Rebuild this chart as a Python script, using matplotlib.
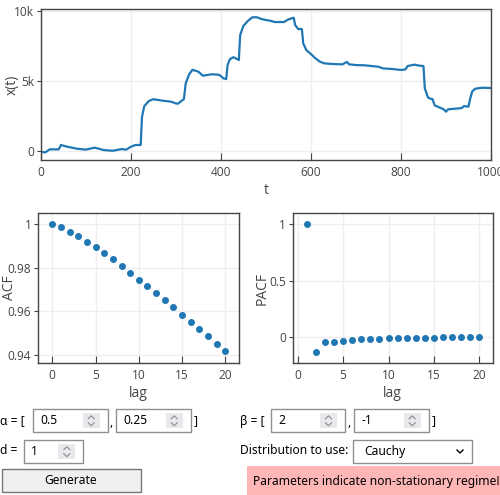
import matplotlib
matplotlib.use("Agg")
import matplotlib.pyplot as plt
from matplotlib.patches import Rectangle

# time series (t, x(t))
t_vals = [0, 10, 20, 40, 45, 60, 80, 100, 120, 140, 160, 180, 190, 200, 210, 222,
          225, 230, 240, 250, 270, 290, 300, 305, 315, 318, 322, 330, 337, 350,
          360, 380, 395, 400, 405, 412, 415, 420, 428, 433, 440, 443, 450, 460,
          470, 480, 490, 500, 510, 520, 540, 550, 562, 565, 572, 580, 583, 590,
          600, 610, 620, 630, 650, 670, 680, 685, 700, 720, 750, 760, 780, 800,
          810, 815, 830, 840, 850, 853, 860, 865, 870, 875, 885, 895, 900, 905,
          920, 935, 940, 950, 953, 958, 965, 980, 1000]
x_vals = [-50, -100, 120, 120, 430, 300, 170, 100, 240, 70, 20, 140, 100, 300, 430, 430,
          2450, 3200, 3570, 3700, 3600, 3520, 3400, 3380, 3640, 3700, 4830, 5500, 5800, 5670,
          5380, 5480, 5450, 5360, 5200, 5140, 6140, 6550, 6700, 6620, 6500, 8280, 8930, 9290,
          9550, 9550, 9430, 9360, 9300, 9210, 9210, 9400, 9520, 9000, 8710, 8710, 7690, 7200,
          6930, 6620, 6380, 6260, 6210, 6190, 6360, 6190, 6140, 6120, 6020, 5900, 5860, 5790,
          5830, 6070, 6170, 6100, 6070, 4480, 3830, 3740, 3710, 3260, 3120, 2980, 2810, 2980,
          3020, 3070, 3210, 3170, 3640, 4240, 4450, 4520, 4500]

lags_acf = list(range(0, 21))
acf_vals = [1.0, 0.9985, 0.9965, 0.9944, 0.9919, 0.9893, 0.9866, 0.9837, 0.9808,
            0.9777, 0.9745, 0.9713, 0.9681, 0.9650, 0.9617, 0.9583, 0.9550,
            0.9518, 0.9484, 0.9450, 0.9415]

lags_pacf = list(range(1, 21))
pacf_vals = [1.0, -0.126, -0.044, -0.038, -0.029, -0.024, -0.018, -0.015, -0.012,
             -0.009, -0.006, -0.004, -0.003, -0.002, -0.002, -0.001, -0.001,
             -0.001, -0.001, -0.001]

BLUE = "#1f77b4"
GREY = "#444444"
plt.rcParams["font.family"] = ["Open Sans", "DejaVu Sans"]

fig = plt.figure(figsize=(5, 4.95), dpi=100)


def style(ax, xt, yt, ytl=None):
    ax.set_xticks(xt)
    ax.set_yticks(yt)
    if ytl is not None:
        ax.set_yticklabels(ytl)
    ax.grid(True, color="#eeeeee", linewidth=1)
    ax.set_axisbelow(True)
    for s in ax.spines.values():
        s.set_color(GREY)
        s.set_linewidth(1)
    ax.tick_params(axis="x", direction="in", length=5, color=GREY, labelcolor=GREY,
                   labelsize=8.6, pad=4)
    ax.tick_params(axis="y", direction="out", length=3, color=GREY, labelcolor=GREY,
                   labelsize=8.6, pad=2)


# top: x(t)
ax1 = fig.add_axes([0.0814, 0.6762, 0.9006, 0.305])
ax1.plot(t_vals, x_vals, color=BLUE, linewidth=1.6)
ax1.set_xlim(0, 1000)
ax1.set_ylim(-660, 10120)
style(ax1, [0, 200, 400, 600, 800, 1000], [0, 5000, 10000], ["0", "5k", "10k"])
ax1.set_xlabel("t", color=GREY, fontsize=10, labelpad=3)
ax1.set_ylabel("x(t)", color=GREY, fontsize=10)
ax1.yaxis.set_label_coords(-0.046, 0.5)

# ACF
ax2 = fig.add_axes([0.0766, 0.2661, 0.402, 0.3042])
ax2.scatter(lags_acf, acf_vals, s=16, color=BLUE, zorder=3)
ax2.set_xlim(-1.62, 21.62)
ax2.set_ylim(0.936, 1.0052)
style(ax2, [0, 5, 10, 15, 20], [0.94, 0.96, 0.98, 1.0], ["0.94", "0.96", "0.98", "1"])
ax2.set_xlabel("lag", color=GREY, fontsize=10, labelpad=3)
ax2.set_ylabel("ACF", color=GREY, fontsize=10)
ax2.yaxis.set_label_coords(-0.107, 0.5)

# PACF
ax3 = fig.add_axes([0.5854, 0.2661, 0.4, 0.3042])
ax3.scatter(lags_pacf, pacf_vals, s=16, color=BLUE, zorder=3)
ax3.set_xlim(-0.55, 21.47)
ax3.set_ylim(-0.229, 1.1)
style(ax3, [0, 5, 10, 15, 20], [0, 0.5, 1], ["0", "0.5", "1"])
ax3.set_xlabel("lag", color=GREY, fontsize=10, labelpad=3)
ax3.set_ylabel("PACF", color=GREY, fontsize=10)
ax3.yaxis.set_label_coords(-0.1135, 0.5)

# widget strip drawn in pixel coordinates
ui = fig.add_axes([0, 0, 1, 1], zorder=-1)
ui.set_xlim(0, 500)
ui.set_ylim(495, 0)
ui.axis("off")
FS = 8.7
WF = ["Noto Sans", "DejaVu Sans"]


def box(x0, x1, y0, y1, fc="white", ec="#8f8f8f"):
    ui.add_patch(Rectangle((x0, y0), x1 - x0, y1 - y0, facecolor=fc, edgecolor=ec,
                           linewidth=1))


def spin_input(x0, x1, y0, y1, value):
    box(x0, x1, y0, y1)
    ym = (y0 + y1) / 2
    ui.text(x0 + 7, ym, value, fontsize=FS, family=WF, va="center", color="black")
    sx = x1 - 25
    ui.add_patch(Rectangle((sx, y0 + 4), 17, y1 - y0 - 8, facecolor="#e9e9ed",
                           edgecolor="none"))
    cx = sx + 8.5
    ui.plot([cx - 3, cx, cx + 3], [ym - 2, ym - 5, ym - 2], color="#8a8a8a", lw=0.8)
    ui.plot([cx - 3, cx, cx + 3], [ym + 2, ym + 5, ym + 2], color="#8a8a8a", lw=0.8)


def label(x, y, s):
    ui.text(x, y, s, fontsize=FS, family=WF, va="center", color="black")


# alpha row
label(0, 421, "α = [")
spin_input(33.3, 107.7, 409.3, 432.3, "0.5")
label(109.5, 423, ",")
spin_input(116, 190.7, 409.3, 432.3, "0.25")
label(194, 421, "]")

# beta row
label(240, 421, "β = [")
spin_input(271, 345, 409.3, 432.3, "2")
label(347, 423, ",")
spin_input(354, 428.7, 409.3, 432.3, "-1")
label(432, 421, "]")

# d row
label(0, 451, "d =")
spin_input(24, 83.3, 440, 463.3, "1")

# distribution select
label(240, 451, "Distribution to use:")
box(353.3, 472.3, 440, 462.7)
label(364.3, 451, "Cauchy")
ui.plot([457, 460, 463], [450, 453, 450], color="black", lw=1)

# generate button
box(1.7, 140.7, 469, 492.3, fc="#efefef", ec="#767676")
ui.text(71, 480.5, "Generate", fontsize=FS, family=WF, va="center", ha="center",
        color="black")

# warning
ui.add_patch(Rectangle((247.3, 465.7), 260, 30, facecolor="#ffb6b6", edgecolor="none"))
label(252.7, 481, "Parameters indicate non-stationary regime!")

fig.savefig("out.png", dpi=100)
